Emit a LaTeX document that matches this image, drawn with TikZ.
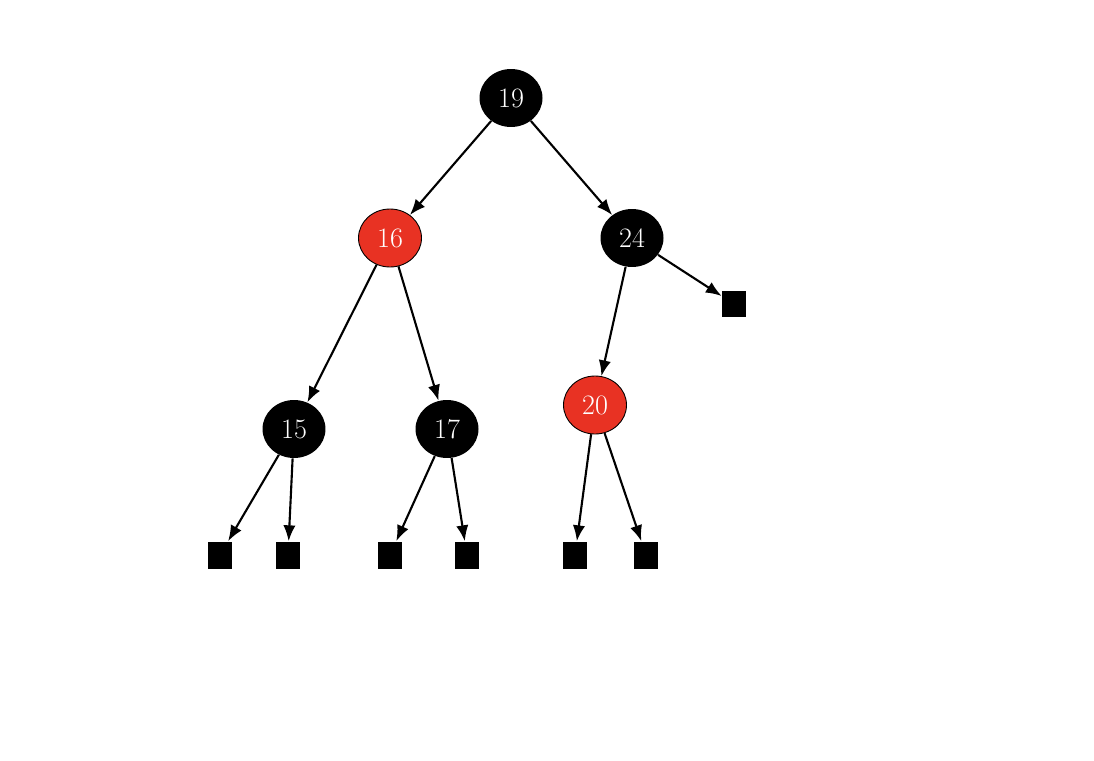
\documentclass[tikz,border=0pt]{standalone}
\usetikzlibrary{shapes.geometric,arrows.meta}
\definecolor{rbred}{RGB}{232,50,35}
\begin{document}
\begin{tikzpicture}[x=0.02cm,y=-0.02cm,
  bn/.style={ellipse,fill=black,text=white,minimum width=1.26cm,minimum height=1.16cm,inner sep=0pt,font=\fontsize{16}{18}\selectfont},
  rn/.style={bn,fill=rbred,draw=black,line width=0.5pt},
  leaf/.style={rectangle,fill=black,minimum width=0.48cm,minimum height=0.54cm,inner sep=0pt},
  edge/.style={line width=1.2pt,-{Latex[length=9pt,width=7pt]}}]
\useasboundingbox (0,0) rectangle (1094,760);
\node[bn] (n19) at (511,98) {19};
\node[rn] (n16) at (390,238) {16};
\node[bn] (n24) at (632,238) {24};
\node[bn] (n15) at (294,429) {15};
\node[bn] (n17) at (447,429) {17};
\node[rn] (n20) at (595,405) {20};
\node[leaf] (l1) at (220,555) {};
\node[leaf] (l2) at (288,555) {};
\node[leaf] (l3) at (390,555) {};
\node[leaf] (l4) at (467,555) {};
\node[leaf] (l5) at (575,555) {};
\node[leaf] (l6) at (646,555) {};
\node[leaf] (l7) at (734,304) {};
\draw[edge] (n19) -- (n16);
\draw[edge] (n19) -- (n24);
\draw[edge] (n16) -- (n15);
\draw[edge] (n16) -- (n17);
\draw[edge] (n24) -- (n20);
\draw[edge] (n24) -- (l7);
\draw[edge] (n15) -- (l1);
\draw[edge] (n15) -- (l2);
\draw[edge] (n17) -- (l3);
\draw[edge] (n17) -- (l4);
\draw[edge] (n20) -- (l5);
\draw[edge] (n20) -- (l6);
\end{tikzpicture}
\end{document}
